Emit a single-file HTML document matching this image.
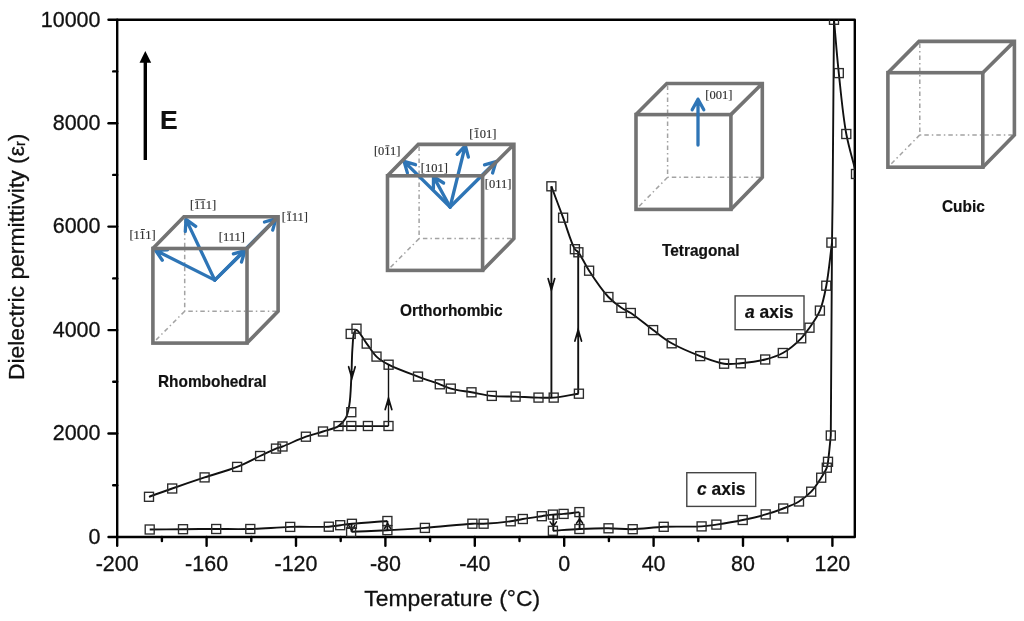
<!DOCTYPE html><html><head><meta charset="utf-8"><title>Dielectric permittivity vs temperature</title><style>html,body{margin:0;padding:0;background:#fff;}svg{display:block;}.t{font-family:"Liberation Sans",Arial,sans-serif;fill:#111;stroke:#111;stroke-width:0.3px;}.b{font-family:"Liberation Sans",Arial,sans-serif;font-weight:bold;fill:#111;stroke:#111;stroke-width:0.2px;}.m{font-family:"Liberation Serif","Times New Roman",serif;fill:#303030;stroke:#303030;stroke-width:0.15px;font-size:12.5px;}</style></head><body>
<svg width="1024" height="621" viewBox="0 0 1024 621">
<defs><clipPath id="pa"><rect x="117.2" y="19.7" width="737.6" height="517.3"/></clipPath></defs>
<g stroke="#a3a3a3" stroke-width="1.5" stroke-dasharray="4.5,3,1.5,3" fill="none"><path d="M184.7,218.8 L184.7,311.2 L276.1,311.2 M184.7,311.2 L154.9,341.1"/></g>
<g stroke="#a3a3a3" stroke-width="1.5" stroke-dasharray="4.5,3,1.5,3" fill="none"><path d="M419.1,146.4 L419.1,238.6 L511.9,238.6 M419.1,238.6 L389.5,268.4"/></g>
<g stroke="#a3a3a3" stroke-width="1.5" stroke-dasharray="4.5,3,1.5,3" fill="none"><path d="M667.6,85.5 L667.6,177.3 L760.3,177.3 M667.6,177.3 L638.0,207.4"/></g>
<g stroke="#a3a3a3" stroke-width="1.5" stroke-dasharray="4.5,3,1.5,3" fill="none"><path d="M919.8,43.4 L919.8,134.9 L1012.4,134.9 M919.8,134.9 L889.9,165.2"/></g>
<path d="M214.8,280.1 L155.5,250.3 M167.5,249.8 L155.5,250.3 L162.3,260.2" stroke="#2e75b6" stroke-width="3.3" fill="none" stroke-linecap="round" stroke-linejoin="round"/>
<path d="M214.8,280.1 L186.0,219.4 M195.7,226.4 L186.0,219.4 L185.3,231.4" stroke="#2e75b6" stroke-width="3.3" fill="none" stroke-linecap="round" stroke-linejoin="round"/>
<path d="M214.8,280.1 L245.0,250.6 M241.5,262.1 L245.0,250.6 L233.4,253.8" stroke="#2e75b6" stroke-width="3.3" fill="none" stroke-linecap="round" stroke-linejoin="round"/>
<path d="M214.8,280.1 L276.0,218.6 M272.7,230.1 L276.0,218.6 L264.5,222.0" stroke="#2e75b6" stroke-width="3.3" fill="none" stroke-linecap="round" stroke-linejoin="round"/>
<path d="M450.1,207.0 L404.0,161.4 M415.5,164.7 L404.0,161.4 L407.4,172.9" stroke="#2e75b6" stroke-width="3.3" fill="none" stroke-linecap="round" stroke-linejoin="round"/>
<path d="M450.1,207.0 L433.5,176.6 M443.6,183.0 L433.5,176.6 L433.4,188.6" stroke="#2e75b6" stroke-width="3.3" fill="none" stroke-linecap="round" stroke-linejoin="round"/>
<path d="M450.1,207.0 L465.3,145.5 M468.4,157.1 L465.3,145.5 L457.2,154.3" stroke="#2e75b6" stroke-width="3.3" fill="none" stroke-linecap="round" stroke-linejoin="round"/>
<path d="M450.1,207.0 L496.0,161.5 M492.6,173.0 L496.0,161.5 L484.5,164.8" stroke="#2e75b6" stroke-width="3.3" fill="none" stroke-linecap="round" stroke-linejoin="round"/>
<g stroke="#737373" stroke-width="3.6" fill="none" stroke-linejoin="miter"><rect x="152.9" y="248.5" width="94.1" height="94.6"/><path d="M152.9,248.5 L183.9,216.8 L278.1,216.8 L278.1,311.2 L247.0,343.1 M247.0,248.5 L278.1,216.8"/></g>
<g stroke="#737373" stroke-width="3.6" fill="none" stroke-linejoin="miter"><rect x="387.5" y="175.8" width="95.1" height="94.6"/><path d="M387.5,175.8 L418.3,144.4 L513.9,144.4 L513.9,238.6 L482.6,270.4 M482.6,175.8 L513.9,144.4"/></g>
<g stroke="#737373" stroke-width="3.6" fill="none" stroke-linejoin="miter"><rect x="636.0" y="114.6" width="94.9" height="94.8"/><path d="M636.0,114.6 L666.8,83.5 L762.3,83.5 L762.3,177.3 L730.9,209.4 M730.9,114.6 L762.3,83.5"/></g>
<g stroke="#737373" stroke-width="3.6" fill="none" stroke-linejoin="miter"><rect x="887.9" y="72.7" width="94.9" height="94.5"/><path d="M887.9,72.7 L919.0,41.4 L1014.4,41.4 L1014.4,134.9 L982.8,167.2 M982.8,72.7 L1014.4,41.4"/></g>
<path d="M698.0,145.0 L698.0,99.2 M703.8,109.7 L698.0,99.2 L692.2,109.7" stroke="#2e75b6" stroke-width="3.3" fill="none" stroke-linecap="round" stroke-linejoin="round"/>
<text class="m" x="129.4" y="238.9">[111]</text><line x1="140.9" y1="229.5" x2="144.9" y2="229.5" stroke="#2a2a2a" stroke-width="0.9"/>
<text class="m" x="189.9" y="209.1">[111]</text><line x1="195.2" y1="199.7" x2="205.4" y2="199.7" stroke="#2a2a2a" stroke-width="0.9"/>
<text class="m" x="218.8" y="241.0">[111]</text>
<text class="m" x="281.8" y="221.4">[111]</text><line x1="287.1" y1="212.0" x2="291.1" y2="212.0" stroke="#2a2a2a" stroke-width="0.9"/>
<text class="m" x="373.9" y="155.2">[011]</text><line x1="385.4" y1="145.8" x2="389.4" y2="145.8" stroke="#2a2a2a" stroke-width="0.9"/>
<text class="m" x="420.8" y="171.8">[101]</text>
<text class="m" x="469.3" y="138.1">[101]</text><line x1="474.6" y1="128.7" x2="478.6" y2="128.7" stroke="#2a2a2a" stroke-width="0.9"/>
<text class="m" x="484.8" y="187.6">[011]</text>
<text class="m" x="705.3" y="98.9">[001]</text>
<text class="b" transform="translate(158,386.6) scale(1,1.04)" font-size="15.4">Rhombohedral</text>
<text class="b" transform="translate(400,315.9) scale(1,1.04)" font-size="15.4">Orthorhombic</text>
<text class="b" transform="translate(662,255.5) scale(1,1.04)" font-size="15.4">Tetragonal</text>
<text class="b" transform="translate(942,212.2) scale(1,1.04)" font-size="15.4">Cubic</text>
<path d="M145.3,160 L145.3,60" stroke="#000" stroke-width="3.4"/>
<path d="M145.3,50.9 L151.2,62.8 L139.5,62.8 Z" fill="#000"/>
<text class="b" x="160" y="129.1" font-size="26.5">E</text>
<g stroke="#000" stroke-width="2.4" fill="none" stroke-linecap="round" stroke-linejoin="round"><rect x="117.2" y="19.7" width="737.6" height="517.3"/><line x1="117.2" y1="537.0" x2="117.2" y2="545.7"/><line x1="161.9" y1="537.0" x2="161.9" y2="541.0"/><line x1="206.6" y1="537.0" x2="206.6" y2="545.7"/><line x1="251.3" y1="537.0" x2="251.3" y2="541.0"/><line x1="296.0" y1="537.0" x2="296.0" y2="545.7"/><line x1="340.7" y1="537.0" x2="340.7" y2="541.0"/><line x1="385.4" y1="537.0" x2="385.4" y2="545.7"/><line x1="430.1" y1="537.0" x2="430.1" y2="541.0"/><line x1="474.8" y1="537.0" x2="474.8" y2="545.7"/><line x1="519.5" y1="537.0" x2="519.5" y2="541.0"/><line x1="564.2" y1="537.0" x2="564.2" y2="545.7"/><line x1="608.9" y1="537.0" x2="608.9" y2="541.0"/><line x1="653.6" y1="537.0" x2="653.6" y2="545.7"/><line x1="698.3" y1="537.0" x2="698.3" y2="541.0"/><line x1="743.0" y1="537.0" x2="743.0" y2="545.7"/><line x1="787.7" y1="537.0" x2="787.7" y2="541.0"/><line x1="832.4" y1="537.0" x2="832.4" y2="545.7"/><line x1="117.2" y1="537.0" x2="108.5" y2="537.0"/><line x1="117.2" y1="485.3" x2="113.2" y2="485.3"/><line x1="117.2" y1="433.5" x2="108.5" y2="433.5"/><line x1="117.2" y1="381.8" x2="113.2" y2="381.8"/><line x1="117.2" y1="330.1" x2="108.5" y2="330.1"/><line x1="117.2" y1="278.4" x2="113.2" y2="278.4"/><line x1="117.2" y1="226.6" x2="108.5" y2="226.6"/><line x1="117.2" y1="174.9" x2="113.2" y2="174.9"/><line x1="117.2" y1="123.2" x2="108.5" y2="123.2"/><line x1="117.2" y1="71.4" x2="113.2" y2="71.4"/><line x1="117.2" y1="19.7" x2="108.5" y2="19.7"/></g>
<text class="t" transform="translate(117.2,570.8) scale(1,1.035)" font-size="21.5" text-anchor="middle">-200</text>
<text class="t" transform="translate(206.6,570.8) scale(1,1.035)" font-size="21.5" text-anchor="middle">-160</text>
<text class="t" transform="translate(296.0,570.8) scale(1,1.035)" font-size="21.5" text-anchor="middle">-120</text>
<text class="t" transform="translate(385.4,570.8) scale(1,1.035)" font-size="21.5" text-anchor="middle">-80</text>
<text class="t" transform="translate(474.8,570.8) scale(1,1.035)" font-size="21.5" text-anchor="middle">-40</text>
<text class="t" transform="translate(564.2,570.8) scale(1,1.035)" font-size="21.5" text-anchor="middle">0</text>
<text class="t" transform="translate(653.6,570.8) scale(1,1.035)" font-size="21.5" text-anchor="middle">40</text>
<text class="t" transform="translate(743.0,570.8) scale(1,1.035)" font-size="21.5" text-anchor="middle">80</text>
<text class="t" transform="translate(832.4,570.8) scale(1,1.035)" font-size="21.5" text-anchor="middle">120</text>
<text class="t" transform="translate(100.5,543.8) scale(1,1.06)" font-size="21.5" text-anchor="end">0</text>
<text class="t" transform="translate(100.5,440.3) scale(1,1.06)" font-size="21.5" text-anchor="end">2000</text>
<text class="t" transform="translate(100.5,336.9) scale(1,1.06)" font-size="21.5" text-anchor="end">4000</text>
<text class="t" transform="translate(100.5,233.4) scale(1,1.06)" font-size="21.5" text-anchor="end">6000</text>
<text class="t" transform="translate(100.5,130.0) scale(1,1.06)" font-size="21.5" text-anchor="end">8000</text>
<text class="t" transform="translate(100.5,26.5) scale(1,1.06)" font-size="21.5" text-anchor="end">10000</text>
<text class="t" x="364.3" y="605.8" font-size="22.9">Temperature (°C)</text>
<text class="t" transform="translate(24.2,380.1) rotate(-90)" x="0" y="0" font-size="22.9">Dielectric permittivity (ε<tspan font-size="14.5" dy="1">r</tspan><tspan dy="-1">)</tspan></text>
<g clip-path="url(#pa)" fill="none" stroke="#111" stroke-width="1.9" stroke-linejoin="round"><path d="M149.0,496.8 C156.7,494.0 163.8,491.4 172.2,488.5 C182.1,485.0 193.8,481.0 204.6,477.4 C215.4,473.8 227.3,470.8 237.1,466.9 C245.5,463.6 253.1,459.3 260.1,456.0 C265.9,453.3 271.8,450.2 276.0,448.6 C278.6,447.6 279.7,447.5 282.5,446.5 C287.9,444.5 298.6,439.3 305.9,436.7 C312.0,434.5 317.5,433.3 323.0,431.5 C328.3,429.8 334.6,428.7 338.5,426.1 C341.6,424.1 343.7,421.7 345.5,418.6 C347.6,415.0 348.4,410.4 349.3,405.1 C350.6,397.7 350.8,387.2 351.3,378.0 C351.8,368.5 351.8,357.3 352.4,349.0 C352.9,342.8 352.9,335.6 354.2,332.6 C354.8,331.2 355.5,330.0 356.5,330.0 C358.7,330.1 363.3,339.1 366.7,343.6 C370.0,348.0 372.7,353.0 376.5,356.6 C380.1,360.0 383.5,362.0 388.6,364.7 C396.1,368.7 408.9,373.2 418.0,376.6 C425.8,379.5 433.8,382.1 439.8,384.3 C444.1,385.9 446.5,387.4 450.8,388.6 C456.6,390.2 464.6,391.1 471.5,392.3 C478.3,393.5 484.7,395.2 491.8,395.9 C499.4,396.7 507.7,396.3 515.6,396.6 C523.3,396.9 531.6,397.5 538.5,397.6 C544.1,397.7 548.0,398.0 553.7,397.6 C561.0,397.0 570.3,395.0 578.6,393.7"/><path d="M338.5,426.1 L388.5,426.1"/><path d="M388.5,426.1 L388.5,364.7" stroke-width="1.4"/><path d="M551.4,186.3 L551.4,397.6"/><path d="M578.2,393.7 L578.2,252.3"/><path d="M551.4,186.3 C555.3,196.8 559.2,207.2 563.1,217.7 C567.0,228.2 571.6,244.3 574.9,249.2 C576.1,251.0 577.1,250.7 578.4,252.3 C581.2,255.8 584.8,264.1 589.1,270.7 C594.4,278.8 602.2,290.4 608.4,297.0 C612.9,301.7 617.3,305.0 621.4,307.8 C624.7,310.0 627.1,310.6 630.8,313.0 C636.8,316.9 646.0,324.8 653.1,330.1 C659.5,334.8 664.6,339.2 671.7,343.3 C680.0,348.0 691.0,352.6 700.2,356.1 C708.4,359.2 716.8,362.7 724.1,363.7 C730.1,364.6 734.7,363.8 740.8,363.3 C748.2,362.6 757.8,361.4 765.2,359.5 C771.6,357.8 777.1,356.2 782.8,353.0 C789.2,349.4 796.5,343.1 801.2,338.3 C804.8,334.7 806.7,331.7 809.5,327.7 C812.9,322.8 817.2,317.1 819.9,310.6 C823.0,303.3 824.5,295.2 826.3,285.7 C828.7,273.4 830.1,257.0 832.0,242.6"/><path d="M834.0,19.8 C835.6,37.6 836.8,54.8 838.8,73.1 C840.9,92.7 842.9,115.9 846.3,134.0 C849.1,148.8 853.5,162.1 856.3,174.0 C858.5,183.6 860.1,191.3 862.0,200.0"/><path d="M149.7,529.5 C160.8,529.4 171.9,529.3 183.0,529.2 C194.1,529.1 205.1,529.0 216.2,529.0 C227.5,529.0 238.5,529.3 250.3,529.0 C263.1,528.7 277.0,527.3 290.2,526.9 C303.2,526.5 319.8,527.3 328.8,526.7 C333.7,526.4 336.4,525.7 340.2,525.2 C344.1,524.7 346.9,524.3 351.9,523.8 C360.5,522.9 375.6,521.9 387.4,521.0"/><path d="M351.5,531.8 C363.5,531.3 375.3,530.8 387.4,530.2 C399.8,529.5 411.7,528.9 424.9,527.9 C439.8,526.8 462.0,524.2 472.4,523.7 C477.4,523.5 479.1,523.9 483.6,523.7 C490.7,523.4 503.5,522.3 510.7,521.3 C515.6,520.6 518.3,519.8 522.8,519.0 C528.4,518.1 536.3,517.0 541.8,516.2 C546.0,515.6 549.2,515.0 552.9,514.6 C556.5,514.2 559.7,514.3 563.6,513.9 C568.4,513.5 574.1,512.7 579.4,512.1"/><path d="M552.9,530.8 C561.7,530.2 570.4,529.4 579.4,529.0 C588.9,528.6 599.2,528.2 608.5,528.3 C616.9,528.4 624.1,529.4 632.7,529.2 C642.4,529.0 652.8,527.3 663.7,526.8 C675.7,526.3 691.9,527.0 701.6,526.4 C707.7,526.0 710.8,525.4 716.4,524.6 C723.9,523.5 734.3,521.8 742.7,520.0 C750.7,518.3 758.6,516.5 765.7,514.4 C772.0,512.6 777.6,510.7 783.2,508.5 C788.7,506.4 794.2,504.4 799.0,501.5 C803.5,498.7 807.6,495.5 811.2,491.7 C815.0,487.7 818.4,482.0 821.2,477.7 C823.5,474.2 825.7,470.7 826.8,467.7 C827.6,465.5 827.6,464.5 828.0,461.8 C828.9,456.2 829.9,444.3 830.8,435.5 L832.0,242.6 L832.6,200 L834.0,19"/><path d="M351.5,523.8 L351.5,531.8 M387.4,530.2 L387.4,521.0 M553.3,514.6 L553.3,530.8 M579.6,529.3 L579.6,512.2"/></g>
<path d="M348.6,366.7 L351.9,378.0 L355.2,366.7" fill="none" stroke="#111" stroke-width="1.70" stroke-linecap="round" stroke-linejoin="miter"/><path d="M351.9,378.0 L353.7,371.0 L350.1,371.0 Z" fill="#111"/>
<path d="M385.2,409.6 L388.5,398.3 L391.8,409.6" fill="none" stroke="#111" stroke-width="1.70" stroke-linecap="round" stroke-linejoin="miter"/><path d="M388.5,398.3 L390.3,405.3 L386.7,405.3 Z" fill="#111"/>
<path d="M548.1,278.6 L551.4,289.9 L554.7,278.6" fill="none" stroke="#111" stroke-width="1.70" stroke-linecap="round" stroke-linejoin="miter"/><path d="M551.4,289.9 L553.2,282.9 L549.6,282.9 Z" fill="#111"/>
<path d="M574.9,341.1 L578.2,329.8 L581.5,341.1" fill="none" stroke="#111" stroke-width="1.70" stroke-linecap="round" stroke-linejoin="miter"/><path d="M578.2,329.8 L580.0,336.8 L576.4,336.8 Z" fill="#111"/>
<path d="M348.8,525.5 L351.8,530.5 L354.8,525.5" fill="none" stroke="#111" stroke-width="1.50" stroke-linecap="round" stroke-linejoin="miter"/><path d="M351.8,530.5 L353.4,527.4 L350.2,527.4 Z" fill="#111"/>
<path d="M384.6,528.5 L387.6,523.5 L390.6,528.5" fill="none" stroke="#111" stroke-width="1.50" stroke-linecap="round" stroke-linejoin="miter"/><path d="M387.6,523.5 L389.2,526.6 L386.0,526.6 Z" fill="#111"/>
<path d="M550.1,521.9 L553.3,526.4 L556.5,521.9" fill="none" stroke="#111" stroke-width="1.50" stroke-linecap="round" stroke-linejoin="miter"/><path d="M553.3,526.4 L555.1,523.6 L551.5,523.6 Z" fill="#111"/>
<path d="M576.5,523.2 L579.6,518.7 L582.7,523.2" fill="none" stroke="#111" stroke-width="1.50" stroke-linecap="round" stroke-linejoin="miter"/><path d="M579.6,518.7 L581.3,521.5 L577.9,521.5 Z" fill="#111"/>
<g clip-path="url(#pa)" fill="none" stroke="#2b2b2b" stroke-width="1.35"><rect x="144.5" y="492.3" width="9" height="9"/><rect x="167.7" y="484.0" width="9" height="9"/><rect x="200.1" y="472.9" width="9" height="9"/><rect x="232.6" y="462.4" width="9" height="9"/><rect x="255.6" y="451.5" width="9" height="9"/><rect x="271.5" y="444.1" width="9" height="9"/><rect x="278.0" y="442.0" width="9" height="9"/><rect x="301.4" y="432.2" width="9" height="9"/><rect x="318.5" y="427.0" width="9" height="9"/><rect x="334.0" y="421.6" width="9" height="9"/><rect x="346.8" y="421.5" width="9" height="9"/><rect x="363.4" y="421.5" width="9" height="9"/><rect x="384.0" y="421.5" width="9" height="9"/><rect x="346.8" y="407.7" width="9" height="9"/><rect x="346.2" y="329.4" width="9" height="9"/><rect x="352.0" y="324.2" width="9" height="9"/><rect x="362.2" y="339.1" width="9" height="9"/><rect x="372.0" y="352.1" width="9" height="9"/><rect x="384.1" y="360.2" width="9" height="9"/><rect x="413.5" y="372.1" width="9" height="9"/><rect x="435.3" y="379.8" width="9" height="9"/><rect x="446.3" y="384.1" width="9" height="9"/><rect x="467.0" y="387.8" width="9" height="9"/><rect x="487.3" y="391.4" width="9" height="9"/><rect x="511.1" y="392.1" width="9" height="9"/><rect x="534.0" y="393.1" width="9" height="9"/><rect x="549.2" y="393.1" width="9" height="9"/><rect x="574.4" y="389.2" width="9" height="9"/><rect x="546.9" y="181.8" width="9" height="9"/><rect x="558.6" y="213.2" width="9" height="9"/><rect x="570.4" y="244.7" width="9" height="9"/><rect x="573.9" y="247.8" width="9" height="9"/><rect x="584.6" y="266.2" width="9" height="9"/><rect x="603.9" y="292.5" width="9" height="9"/><rect x="616.9" y="303.3" width="9" height="9"/><rect x="626.3" y="308.5" width="9" height="9"/><rect x="648.6" y="325.6" width="9" height="9"/><rect x="667.2" y="338.8" width="9" height="9"/><rect x="695.7" y="351.6" width="9" height="9"/><rect x="719.6" y="359.2" width="9" height="9"/><rect x="736.3" y="358.8" width="9" height="9"/><rect x="760.7" y="355.0" width="9" height="9"/><rect x="778.3" y="348.5" width="9" height="9"/><rect x="796.7" y="333.8" width="9" height="9"/><rect x="805.0" y="323.2" width="9" height="9"/><rect x="815.4" y="306.1" width="9" height="9"/><rect x="821.8" y="281.2" width="9" height="9"/><rect x="826.9" y="238.1" width="9" height="9"/><rect x="829.5" y="15.3" width="9" height="9"/><rect x="834.3" y="68.6" width="9" height="9"/><rect x="841.8" y="129.5" width="9" height="9"/><rect x="851.5" y="169.5" width="9" height="9"/><rect x="145.2" y="525.0" width="9" height="9"/><rect x="178.5" y="524.7" width="9" height="9"/><rect x="211.7" y="524.5" width="9" height="9"/><rect x="245.8" y="524.5" width="9" height="9"/><rect x="285.7" y="522.4" width="9" height="9"/><rect x="324.3" y="522.2" width="9" height="9"/><rect x="335.7" y="520.7" width="9" height="9"/><rect x="347.4" y="519.3" width="9" height="9"/><rect x="382.9" y="516.5" width="9" height="9"/><rect x="382.9" y="525.7" width="9" height="9"/><rect x="346.6" y="527.8" width="9" height="9"/><rect x="420.4" y="523.4" width="9" height="9"/><rect x="467.9" y="519.2" width="9" height="9"/><rect x="479.1" y="519.2" width="9" height="9"/><rect x="506.2" y="516.8" width="9" height="9"/><rect x="518.3" y="514.5" width="9" height="9"/><rect x="537.3" y="511.7" width="9" height="9"/><rect x="548.4" y="510.1" width="9" height="9"/><rect x="559.1" y="509.4" width="9" height="9"/><rect x="574.9" y="507.6" width="9" height="9"/><rect x="548.4" y="526.3" width="9" height="9"/><rect x="574.9" y="524.5" width="9" height="9"/><rect x="604.0" y="523.8" width="9" height="9"/><rect x="628.2" y="524.7" width="9" height="9"/><rect x="659.2" y="522.3" width="9" height="9"/><rect x="697.1" y="521.9" width="9" height="9"/><rect x="711.9" y="520.1" width="9" height="9"/><rect x="738.2" y="515.5" width="9" height="9"/><rect x="761.2" y="509.9" width="9" height="9"/><rect x="778.7" y="504.0" width="9" height="9"/><rect x="794.5" y="497.0" width="9" height="9"/><rect x="806.7" y="487.2" width="9" height="9"/><rect x="816.7" y="473.2" width="9" height="9"/><rect x="822.3" y="463.2" width="9" height="9"/><rect x="823.5" y="457.3" width="9" height="9"/><rect x="826.3" y="431.0" width="9" height="9"/></g>
<rect x="735.1" y="295.9" width="68.9" height="33.8" fill="#fff" stroke="#444" stroke-width="1.4"/>
<text class="b" x="745" y="317.7" font-size="18.5" textLength="48.5" lengthAdjust="spacingAndGlyphs"><tspan font-style="italic">a</tspan> axis</text>
<rect x="686.8" y="472.7" width="68.9" height="33.7" fill="#fff" stroke="#444" stroke-width="1.4"/>
<text class="b" x="697" y="494.7" font-size="18.5" textLength="48.5" lengthAdjust="spacingAndGlyphs"><tspan font-style="italic">c</tspan> axis</text>
</svg></body></html>
